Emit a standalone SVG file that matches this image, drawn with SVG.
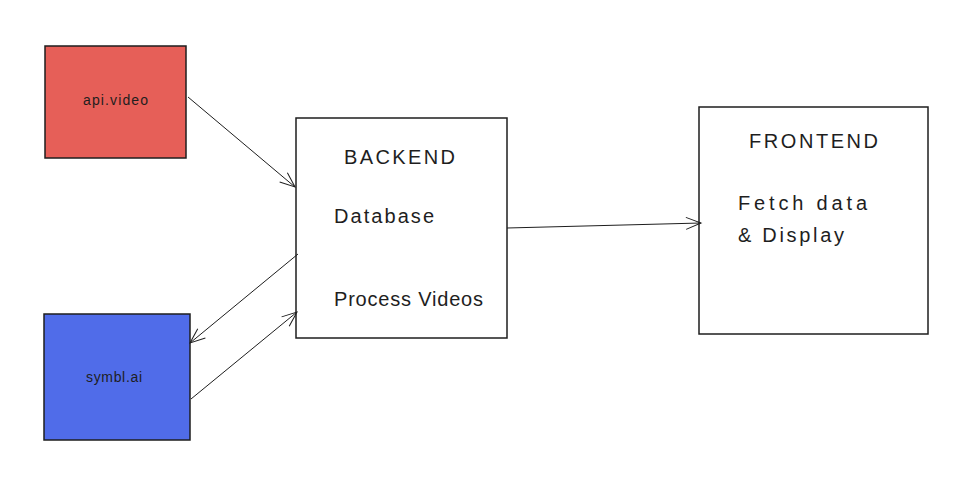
<svg xmlns="http://www.w3.org/2000/svg" width="980" height="488" viewBox="0 0 980 488">
<style>
.box{stroke:#1e1e1e;stroke-width:1.5}
.t{font-family:"Liberation Sans","DejaVu Sans",sans-serif;fill:#1e1e1e}
.s{font-size:14px}
.m{font-size:20px}
.c{stroke:#1e1e1e;stroke-width:1;fill:none}
</style>
<defs>
<marker id="ah" viewBox="0 0 20 20" refX="16" refY="10" markerWidth="20" markerHeight="20" markerUnits="userSpaceOnUse" orient="auto">
<path d="M1,4 L16,10 L1,16" fill="none" stroke="#1e1e1e" stroke-width="1"/>
</marker>
</defs>
<rect width="980" height="488" fill="#ffffff"/>
<g id="api-video">
<rect class="box" x="45" y="46" width="141" height="112" fill="#e65f58"/>
<text class="t s" x="83" y="105" textLength="65" lengthAdjust="spacing">api.video</text>
</g>
<g id="symbl-ai">
<rect class="box" x="44" y="314" width="146" height="126" fill="#506ce9"/>
<text class="t s" x="86" y="382" textLength="56" lengthAdjust="spacing">symbl.ai</text>
</g>
<g id="backend">
<rect class="box" x="296" y="118" width="211" height="220" fill="#ffffff"/>
<text class="t m" x="344" y="164" textLength="111" lengthAdjust="spacing">BACKEND</text>
<text class="t m" x="334" y="223" textLength="100" lengthAdjust="spacing">Database</text>
<text class="t m" x="334" y="306" textLength="149" lengthAdjust="spacing">Process Videos</text>
</g>
<g id="frontend">
<rect class="box" x="699" y="107" width="229" height="227" fill="#ffffff"/>
<text class="t m" x="749" y="148" textLength="129" lengthAdjust="spacing">FRONTEND</text>
<text class="t m" x="738" y="210" textLength="129" lengthAdjust="spacing">Fetch data</text>
<text class="t m" x="738" y="242" textLength="106" lengthAdjust="spacing">&amp; Display</text>
</g>
<g id="connectors">
<path class="c" d="M188,97 L295,187" marker-end="url(#ah)"/>
<path class="c" d="M298,254 L190,343" marker-end="url(#ah)"/>
<path class="c" d="M191,399 L297,312" marker-end="url(#ah)"/>
<path class="c" d="M507,228 L701,223" marker-end="url(#ah)"/>
</g>
</svg>
